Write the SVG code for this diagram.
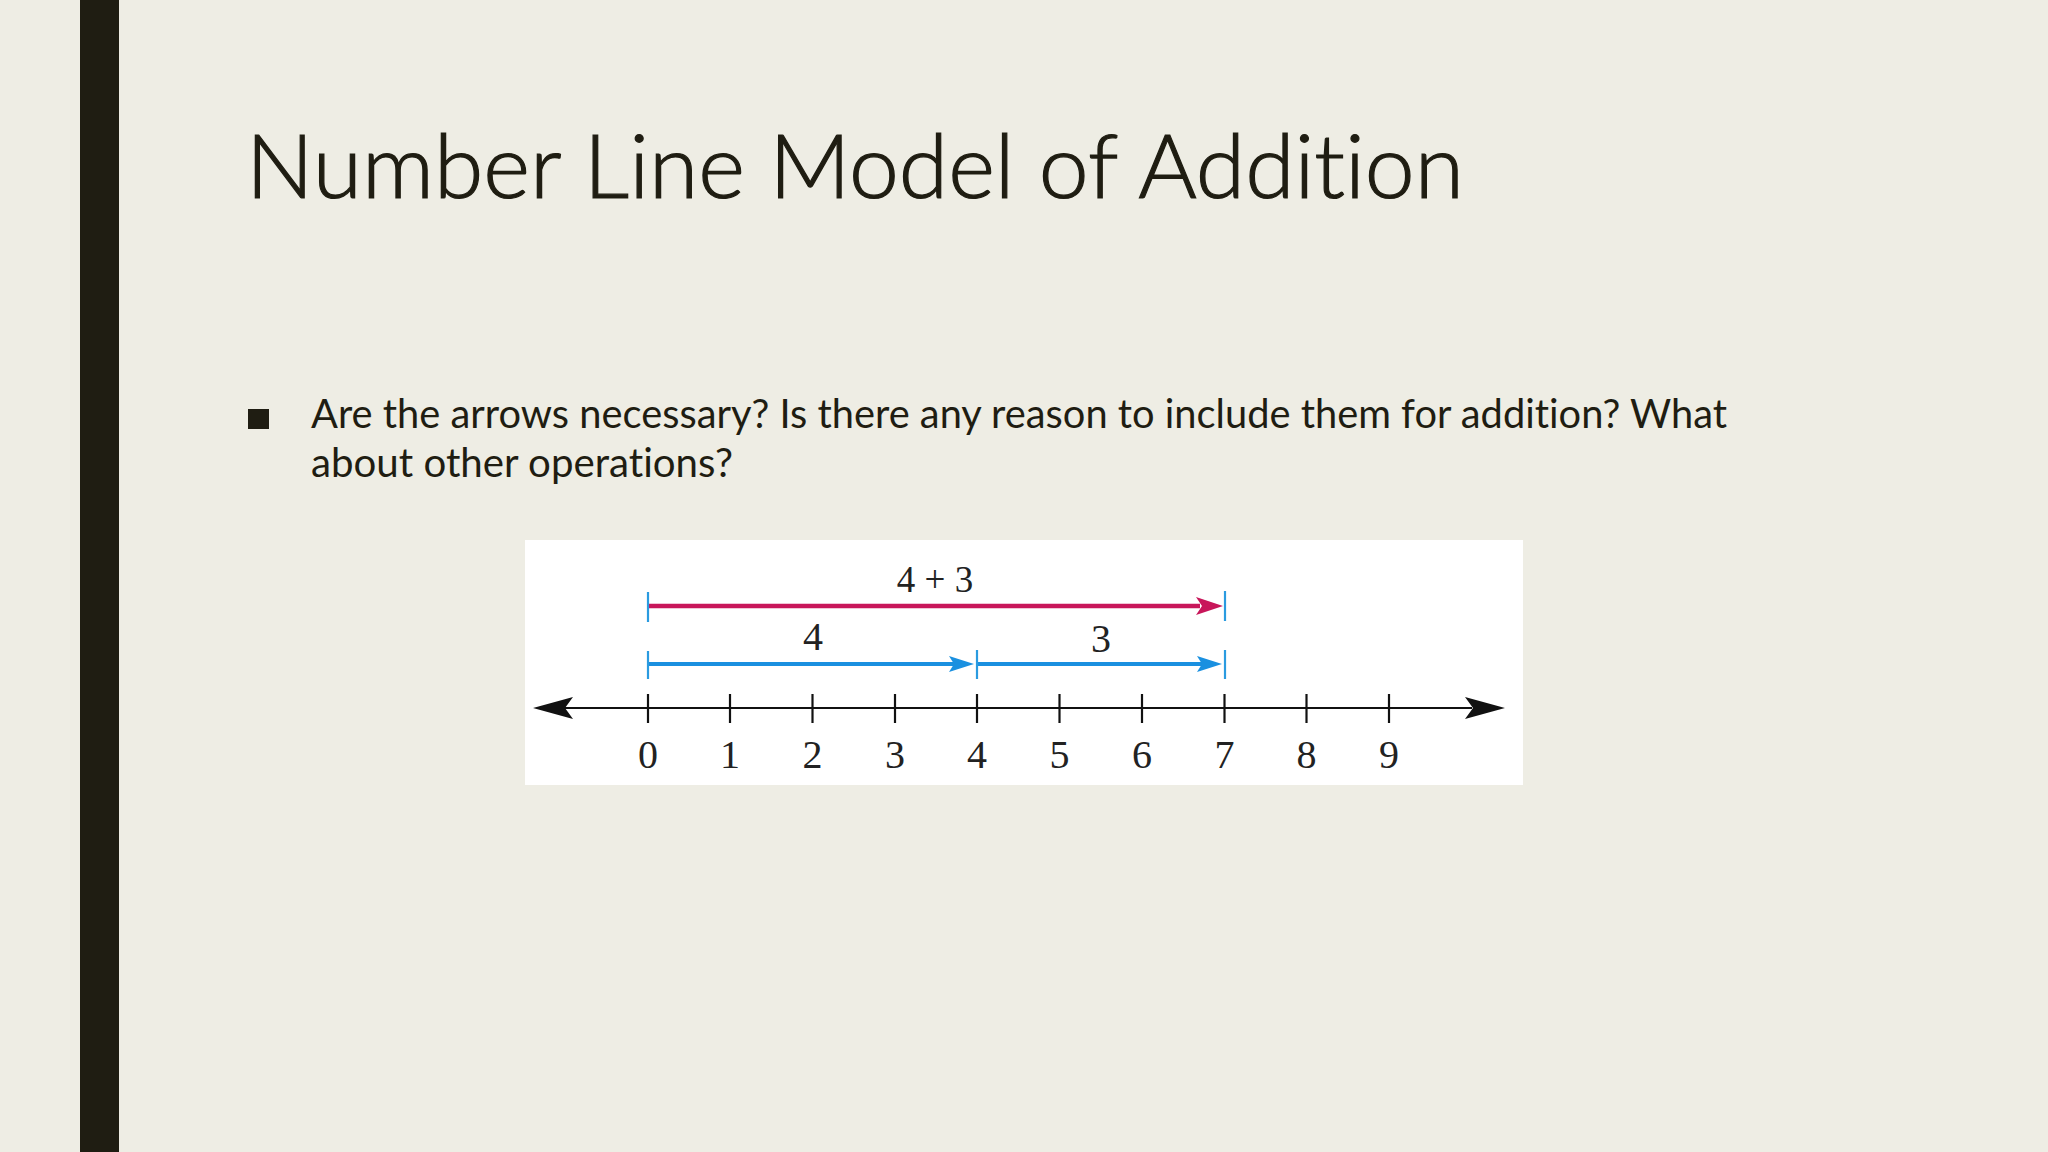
<svg xmlns="http://www.w3.org/2000/svg" width="2048" height="1152" viewBox="0 0 2048 1152">
  <defs>
    <style>
      .title { font-family: Lato, "Open Sans", "Liberation Sans", sans-serif; font-size: 88px; font-weight: 300; fill: #1f1d12; stroke: #1f1d12; stroke-width: 1.2; font-variant-ligatures: none; }
      .body { font-family: Lato, "Open Sans", "Liberation Sans", sans-serif; font-size: 40px; fill: #1f1d12; font-variant-ligatures: none; }
      .num { font-family: "Liberation Serif", "DejaVu Serif", serif; font-size: 40px; fill: #222; text-anchor: middle; }
      .sumlbl { font-size: 37px; }
      .axis { stroke: #111; stroke-width: 2.2; fill: none; }
      .tick { stroke: #111; stroke-width: 2.2; }
      .btick { stroke: #2a9be0; stroke-width: 2.2; }
      .blue { stroke: #1a90e0; stroke-width: 4; fill: none; }
      .red { stroke: #c8165a; stroke-width: 4.5; fill: none; }
    </style>
  </defs>
  <rect x="0" y="0" width="2048" height="1152" fill="#eeede4"/>
  <rect x="80" y="0" width="39" height="1152" fill="#1f1d12"/>

  <g id="title">
    <text class="title" x="246" y="198" textLength="1218" lengthAdjust="spacingAndGlyphs">Number Line Model of Addition</text>
  </g>

  <g id="bullet">
    <rect x="248" y="409" width="21" height="20" fill="#1f1d12"/>
    <text class="body" x="311" y="428" textLength="1416" lengthAdjust="spacingAndGlyphs">Are the arrows necessary? Is there any reason to include them for addition? What</text>
    <text class="body" x="311" y="477" textLength="422" lengthAdjust="spacingAndGlyphs">about other operations?</text>
  </g>

  <g id="figure">
    <rect x="525" y="540" width="998" height="245" fill="#ffffff"/>

    <g id="axis">
      <line class="axis" x1="565" y1="708" x2="1472" y2="708"/>
      <path d="M533,708 L573,697 L565,708 L573,719 Z" fill="#111"/>
      <path d="M1505,708 L1465,697 L1473,708 L1465,719 Z" fill="#111"/>
      <g class="tick">
        <line x1="648" y1="694" x2="648" y2="723"/>
        <line x1="730" y1="694" x2="730" y2="723"/>
        <line x1="812.5" y1="694" x2="812.5" y2="723"/>
        <line x1="895" y1="694" x2="895" y2="723"/>
        <line x1="977" y1="694" x2="977" y2="723"/>
        <line x1="1059.5" y1="694" x2="1059.5" y2="723"/>
        <line x1="1142" y1="694" x2="1142" y2="723"/>
        <line x1="1224.5" y1="694" x2="1224.5" y2="723"/>
        <line x1="1306.5" y1="694" x2="1306.5" y2="723"/>
        <line x1="1389" y1="694" x2="1389" y2="723"/>
      </g>
      <text class="num" x="648" y="768">0</text>
      <text class="num" x="730" y="768">1</text>
      <text class="num" x="812.5" y="768">2</text>
      <text class="num" x="895" y="768">3</text>
      <text class="num" x="977" y="768">4</text>
      <text class="num" x="1059.5" y="768">5</text>
      <text class="num" x="1142" y="768">6</text>
      <text class="num" x="1224.5" y="768">7</text>
      <text class="num" x="1306.5" y="768">8</text>
      <text class="num" x="1389" y="768">9</text>
    </g>

    <g id="sum-arrow">
      <line class="red" x1="648" y1="606" x2="1200" y2="606"/>
      <path d="M1223,606 L1196,597 L1202,606 L1196,615 Z" fill="#c8165a"/>
      <line class="btick" x1="648" y1="592" x2="648" y2="622"/>
      <line class="btick" x1="1225" y1="591" x2="1225" y2="621"/>
      <text class="num sumlbl" x="935" y="592">4 + 3</text>
    </g>

    <g id="arrow-4">
      <line class="blue" x1="648" y1="664" x2="955" y2="664"/>
      <path d="M974,664 L949,656 L954,664 L949,672 Z" fill="#1a90e0"/>
      <line class="btick" x1="648" y1="651" x2="648" y2="679"/>
      <text class="num" x="813" y="650">4</text>
    </g>

    <g id="arrow-3">
      <line class="blue" x1="977" y1="664" x2="1202" y2="664"/>
      <path d="M1222,664 L1197,656 L1202,664 L1197,672 Z" fill="#1a90e0"/>
      <line class="btick" x1="977" y1="650" x2="977" y2="679"/>
      <line class="btick" x1="1225" y1="650" x2="1225" y2="679"/>
      <text class="num" x="1101" y="652">3</text>
    </g>
  </g>
</svg>
